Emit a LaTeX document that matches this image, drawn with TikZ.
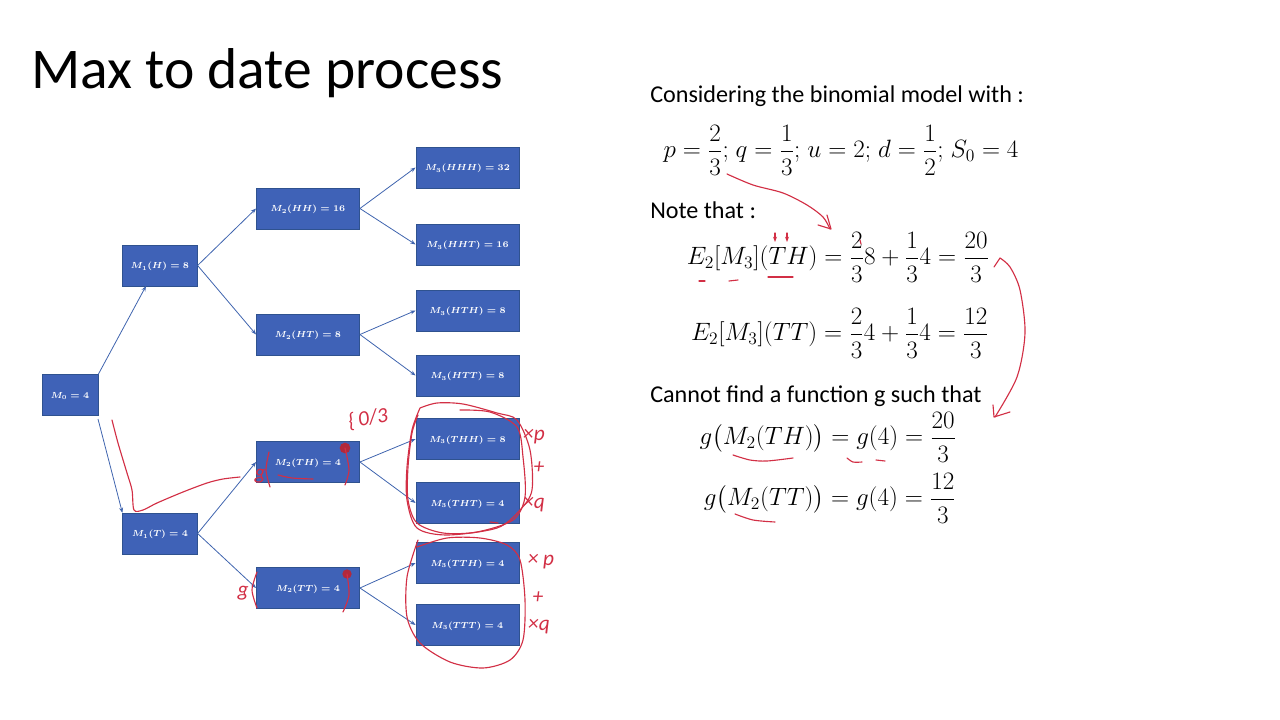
\documentclass[tikz,border=0pt]{standalone}
\usepackage{fix-cm}
\usepackage{amsmath}
\usepackage{fontspec}
\setmainfont{Carlito}
\usetikzlibrary{arrows.meta}
\definecolor{boxblue}{HTML}{3F62B7}
\definecolor{boxedge}{HTML}{2F528F}
\definecolor{linkblue}{HTML}{3F64AE}
\definecolor{penred}{HTML}{D22F45}
\tikzset{>={Stealth[length=4pt]}}
\tikzset{
    state/.style={rectangle,draw=boxedge,fill=boxblue,text=white,minimum height=30.5pt,inner sep=0pt,text height=5.6pt,text depth=0.4pt,font=\fontsize{6.6}{8}\selectfont\boldmath},
    small/.style={state,minimum width=56pt},
    wider/.style={state,minimum width=77.5pt},
    first/.style={state,minimum width=42pt},
    link/.style={->,draw=linkblue,line width=0.6pt},
    title/.style={anchor=base west,inner sep=0pt,font=\fontsize{43.2}{50}\selectfont},
    line/.style={anchor=base west,inner sep=0pt,font=\fontsize{18.1}{22}\selectfont},
    formula/.style={inner sep=0pt,font=\fontsize{18.8}{23}\selectfont},
    pen/.style={draw=penred,line width=0.85pt,line cap=round,line join=round},
    scrawl/.style={text=penred,inner sep=0pt,font=\fontsize{16}{18}\itshape\selectfont},
    dot/.style={circle,fill=penred!85!black,inner sep=0pt,minimum size=8pt},
}
\begin{document}
\begin{tikzpicture}[x=0.75pt,y=-0.75pt]
        \useasboundingbox (0,0) rectangle (1280,720);

        \node[title] (head) at (31,89) {Max to date process};

        \node[first] (m0) at (70,395) {$M_0=4$};
        \node[small] (h) at (160,265.5) {$M_1(H)=8$};
        \node[small] (t) at (160,533.5) {$M_1(T)=4$};
        \node[wider] (hh) at (308,208.5) {$M_2(HH)=16$};
        \node[wider] (ht) at (308,334.5) {$M_2(HT)=8$};
        \node[wider] (th) at (308,462) {$M_2(TH)=4$};
        \node[wider] (tt) at (308,588) {$M_2(TT)=4$};
        \node[wider] (hhh) at (467.5,167.5) {$M_3(HHH)=32$};
        \node[wider] (hht) at (467.5,244.5) {$M_3(HHT)=16$};
        \node[wider] (hth) at (467.5,310.5) {$M_3(HTH)=8$};
        \node[wider] (htt) at (467.5,375.5) {$M_3(HTT)=8$};
        \node[wider] (thh) at (467.5,439) {$M_3(THH)=8$};
        \node[wider] (tht) at (467.5,503) {$M_3(THT)=4$};
        \node[wider] (tth) at (467.5,563) {$M_3(TTH)=4$};
        \node[wider] (ttt) at (467.5,625) {$M_3(TTT)=4$};

        \coordinate (hin) at (146,286);
        \coordinate (tout) at (98,419);
        \draw[link] (m0.north east) to (hin);
        \draw[link] (tout) to (t.north west);
        \draw[link] (h.east) to (hh.west);
        \draw[link] (h.east) to (ht.west);
        \draw[link] (t.east) to (th.west);
        \draw[link] (t.east) to (tt.west);
        \draw[link] (hh.east) to (hhh.west);
        \draw[link] (hh.east) to (hht.west);
        \draw[link] (ht.east) to (hth.west);
        \draw[link] (ht.east) to (htt.west);
        \draw[link] (th.east) to (thh.west);
        \draw[link] (th.east) to (tht.west);
        \draw[link] (tt.east) to (tth.west);
        \draw[link] (tt.east) to (ttt.west);

        \node[line] (given) at (650,103) {Considering the binomial model with :};
        \node[formula] (params) at (841,150) {$p=\dfrac{2}{3};\mskip2mu q=\dfrac{1}{3};\mskip2mu u=2;\mskip2mu d=\dfrac{1}{2};\mskip2mu S_0=4$};
        \node[line] (note) at (650,219) {Note that :};
        \node[formula] (expth) at (838,257) {$E_2[M_3](TH)=\dfrac{2}{3}8+\dfrac{1}{3}4=\dfrac{20}{3}$};
        \node[formula] (exptt) at (840,333) {$E_2[M_3](TT)=\dfrac{2}{3}4+\dfrac{1}{3}4=\dfrac{12}{3}$};
        \node[line] (cannot) at (650,402) {Cannot find a function g such that};
        \node[formula] (gth) at (828,437) {$g\bigl(M_2(TH)\bigr)=g(4)=\dfrac{20}{3}$};
        \node[formula] (gtt) at (830,498) {$g\bigl(M_2(TT)\bigr)=g(4)=\dfrac{12}{3}$};

        \draw[pen] plot[smooth] coordinates {(418,415) (412,433) (408,467) (408,500) (417,523) (443,533) (477,532) (513,520) (525,497) (523,457) (517,427) (490,412) (460,410)};
        \draw[pen] plot[smooth] coordinates {(420,408) (437,403) (463,404) (497,413) (517,420) (530,450) (532,490) (520,510) (497,528) (447,535) (417,528) (407,500) (407,467) (412,430) (420,408)};
        \draw[pen] plot[smooth] coordinates {(417,547) (447,538) (480,538) (507,545) (520,560) (525,600) (523,640) (510,660) (483,668) (450,662) (420,643) (407,617) (407,577) (418,540)};
        \draw[pen] plot[smooth] coordinates {(112,420) (118,443) (127,473) (132,490) (134,510) (143,510) (157,503) (183,492) (207,483) (223,479) (240,477)};

        \node[dot] (thdot) at (345,448) {};
        \node[dot,minimum size=7pt] (ttdot) at (347,574) {};
        \draw[pen] plot[smooth] coordinates {(345,448) (349,470) (345,485)};
        \draw[pen] plot[smooth] coordinates {(347,574) (349,595) (343,612)};
        \draw[pen] plot[smooth] coordinates {(269,452) (266,470) (270,487)};
        \draw[pen] plot[smooth] coordinates {(257,572) (252,590) (257,608)};
        \draw[pen] plot[smooth] coordinates {(278,475) (292,478) (313,479)};
        \draw[pen] (490,522) to (498,523);

        \node[scrawl,rotate=10] (states) at (368,419) {\{\,0/3};
        \node[scrawl] (gleft) at (260,476) {g};
        \node[scrawl] (gdown) at (243,593) {g};
        \node[scrawl] (xp1) at (534,437) {×p};
        \node[scrawl] (plus1) at (539,468) {+};
        \node[scrawl] (xq1) at (534,505) {×q};
        \node[scrawl] (xp2) at (541,562) {× p};
        \node[scrawl] (plus2) at (538,598) {+};
        \node[scrawl] (xq2) at (539,627) {×q};

        \draw[pen] plot[smooth] coordinates {(727,174) (753,185) (783,193) (807,205) (823,217) (830,229)};
        \draw[pen] (818,225) to (831,229) to (827,215);
        \draw[pen,->] (775,233) to (775,242);
        \draw[pen,->] (787,233) to (787,242);
        \draw[pen] (860,240) to (861,244);
        \draw[pen] (699,281) to (705,281);
        \draw[pen] (729,281) to (738,280);
        \draw[pen] (768,277) to (793,277);
        \draw[pen] plot[smooth] coordinates {(1000,258) (1010,267) (1020,290) (1025,333) (1017,377) (995,417)};
        \draw[pen] (994,267) to (1000,258);
        \draw[pen] (993,405) to (994,417) to (1010,412);
        \draw[pen] plot[smooth] coordinates {(733,455) (750,460) (767,461) (793,458)};
        \draw[pen] plot[smooth] coordinates {(847,458) (853,462) (862,462)};
        \draw[pen] (876,460) to (885,461);
        \draw[pen] plot[smooth] coordinates {(735,514) (753,520) (775,522)};
\end{tikzpicture}
\end{document}
